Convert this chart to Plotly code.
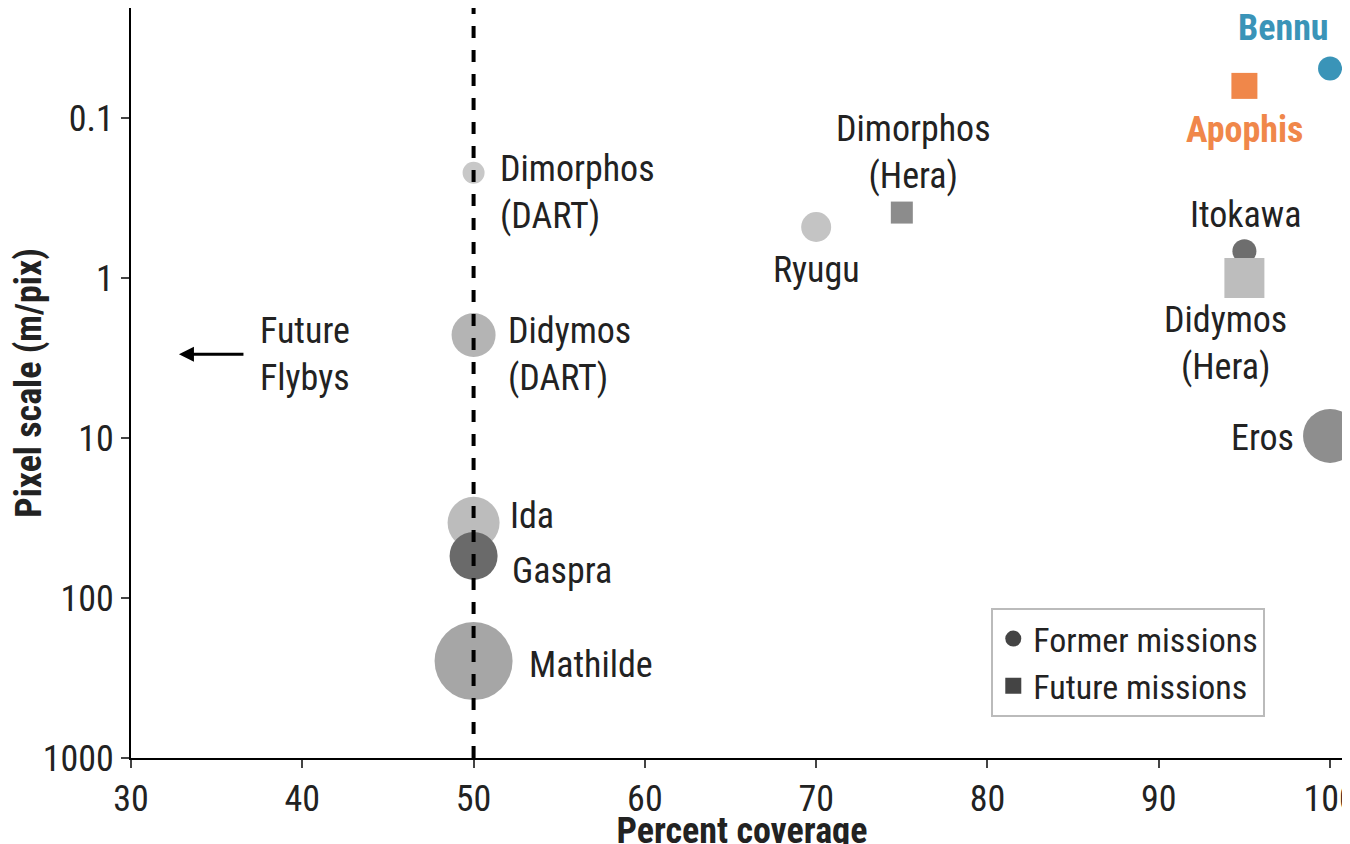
import math
import plotly.graph_objects as go

names = ["Bennu", "Apophis", "Dimorphos<br>(DART)", "Dimorphos<br>(Hera)", "Ryugu", "Itokawa",
         "Didymos<br>(Hera)", "Didymos<br>(DART)", "Eros", "Ida", "Gaspra", "Mathilde"]
coverage = [100, 95, 50, 75, 70, 95, 95, 50, 100, 50, 50, 50]
pixel_scale = [0.049, 0.063, 0.22, 0.39, 0.48, 0.68, 1.0, 2.27, 9.7, 33.9, 54.6, 248]
sizes = [24, 26, 22, 22, 30, 24, 40, 44, 54, 52, 48, 78]
symbols = ["circle", "square", "circle", "square", "circle", "circle", "square", "circle",
           "circle", "circle", "circle", "circle"]
colors = ["#3a94b8", "#f0874a", "#c8c8c8", "#8c8c8c", "#c4c4c4", "#6e6e6e", "#bdbdbd",
          "#b4b4b4", "#8e8e8e", "#bcbcbc", "#6a6a6a", "#a6a6a6"]
label_pos = [("center", -47, 40, "#3a94b8"), ("center", 0, -44, "#f0874a"),
             ("left", 24, -20, None), ("center", 12, 60, None), ("center", 0, -43, None),
             ("center", 1, 36, None), ("center", -19, -65, None), ("left", 32, -20, None),
             ("right", -34, -2, None), ("left", 34, 7, None), ("left", 36, -15, None),
             ("left", 53, -4, None)]

FONT = "Liberation Sans Narrow, Roboto Condensed, Arial Narrow, Roboto, sans-serif"

fig = go.Figure()
fig.add_trace(go.Scatter(x=coverage, y=pixel_scale, mode="markers", showlegend=False,
                         marker=dict(size=sizes, symbol=symbols, color=colors, opacity=1,
                                     line=dict(width=0))))
fig.add_trace(go.Scatter(x=[None], y=[None], mode="markers", name="Former missions",
                         marker=dict(size=26, symbol="circle", color="#444444", opacity=1)))
fig.add_trace(go.Scatter(x=[None], y=[None], mode="markers", name="Future missions",
                         marker=dict(size=24, symbol="square", color="#444444", opacity=1)))

fig.add_vline(x=50, line=dict(color="black", width=4, dash="dash"))

for n, x, y, (xa, xs, ys, c) in zip(names, coverage, pixel_scale, label_pos):
    fig.add_annotation(x=x, y=math.log10(y), text=f"<b>{n}</b>" if c else n, showarrow=False,
                       xanchor=xa, yanchor="middle", xshift=xs, yshift=ys,
                       align="left" if xa == "left" else "center",
                       font=dict(size=36, color=c or "#222222", family=FONT))

fig.add_annotation(x=32.8, y=math.log10(3.0), ax=66, ay=0, text="", showarrow=True,
                   arrowhead=2, arrowsize=1, arrowwidth=3, arrowcolor="black")
fig.add_annotation(x=37.4, y=math.log10(3.0), text="Future<br>Flybys", showarrow=False,
                   xanchor="left", align="left", font=dict(size=36, color="#222222", family=FONT))

fig.update_layout(
    width=1350, height=844, plot_bgcolor="white", paper_bgcolor="white",
    margin=dict(l=123, r=5, t=0, b=94),
    font=dict(family=FONT, size=36, color="#222222"),
    legend=dict(x=0.704, y=0.2, xanchor="left", yanchor="top", bordercolor="#bbbbbb", borderwidth=2,
                font=dict(size=34, family=FONT), itemsizing="trace"),
    xaxis=dict(range=[30, 101.34], tickvals=[30, 40, 50, 60, 70, 80, 90, 100], showgrid=False,
               zeroline=False, showline=True, linecolor="black", linewidth=2, ticks="outside",
               ticklen=8, tickwidth=2, tickfont=dict(size=36), automargin=False,
               title=dict(text="<b>Percent coverage</b>", font=dict(size=36), standoff=2)),
    yaxis=dict(type="log", range=[3, -1.6875], tickvals=[0.1, 1, 10, 100, 1000],
               ticktext=["0.1", "1", "10", "100", "1000"], showgrid=False, zeroline=False,
               showline=True, linecolor="black", linewidth=2, ticks="outside", ticklen=8, tickwidth=2,
               tickfont=dict(size=36), automargin=False,
               title=dict(text="<b>Pixel scale (m/pix)</b>", font=dict(size=36), standoff=4)),
)
fig.write_html("out.html")
